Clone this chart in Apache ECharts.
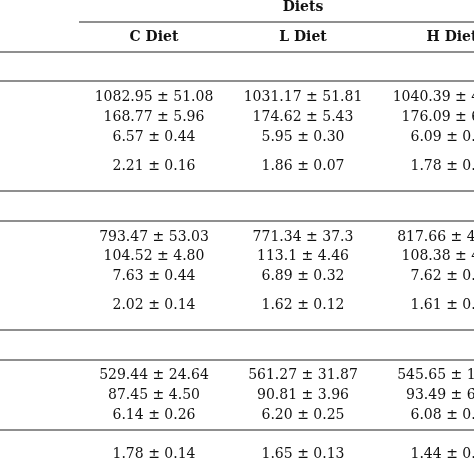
<!DOCTYPE html>
<html>
<head>
<meta charset="utf-8">
<script src="https://cdn.jsdelivr.net/npm/echarts@6/dist/echarts.min.js"></script>
<style>html,body{margin:0;padding:0;background:#fff}#main{width:474px;height:474px}</style>
</head>
<body>
<div id="main"></div>
<script>
// 列标题
var groupTitle = 'Diets';
var dietNames = ['C Diet', 'L Diet', 'H Diet'];

// 三组数据（均值 ± 标准误），H 列在右侧被截断
var cDiet = ['1082.95 ± 51.08', '168.77 ± 5.96', '6.57 ± 0.44', '2.21 ± 0.16',
    '793.47 ± 53.03', '104.52 ± 4.80', '7.63 ± 0.44', '2.02 ± 0.14',
    '529.44 ± 24.64', '87.45 ± 4.50', '6.14 ± 0.26', '1.78 ± 0.14'];
var lDiet = ['1031.17 ± 51.81', '174.62 ± 5.43', '5.95 ± 0.30', '1.86 ± 0.07',
    '771.34 ± 37.3', '113.1 ± 4.46', '6.89 ± 0.32', '1.62 ± 0.12',
    '561.27 ± 31.87', '90.81 ± 3.96', '6.20 ± 0.25', '1.65 ± 0.13'];
var hDiet = ['1040.39 ± 49.12', '176.09 ± 6.02', '6.09 ± 0.31', '1.78 ± 0.09',
    '817.66 ± 41.20', '108.38 ± 4.71', '7.62 ± 0.40', '1.61 ± 0.10',
    '545.65 ± 18.43', '93.49 ± 6.12', '6.08 ± 0.27', '1.44 ± 0.08'];

// 行位置
var rowY = [97, 117, 137, 166, 237, 256, 276, 305, 375, 395, 415, 454];
var colX = [154, 303, 452];
var ruleY = [52, 81, 191, 221, 330, 360, 430];

var graphics = [];
var font = '"DejaVu Serif", serif';

function addText(x, y, txt, bold) {
    graphics.push({
        type: 'text', x: x, y: y,
        style: {
            text: txt, fill: '#111', align: 'center', verticalAlign: 'middle',
            font: (bold ? 'bold ' : '') + '14px ' + font
        }
    });
}
function addLine(x1, x2, y) {
    graphics.push({
        type: 'line', shape: { x1: x1, y1: y, x2: x2, y2: y },
        style: { stroke: '#6a6a6a', lineWidth: 1.5 }
    });
}

addText(303, 7, groupTitle, true);
addLine(79, 474, 22);
for (var i = 0; i < dietNames.length; i++) {
    addText(colX[i], 37, dietNames[i], true);
}
for (var j = 0; j < ruleY.length; j++) {
    addLine(0, 474, ruleY[j]);
}
var cols = [cDiet, lDiet, hDiet];
for (var c = 0; c < cols.length; c++) {
    for (var r = 0; r < rowY.length; r++) {
        addText(colX[c], rowY[r], cols[c][r], false);
    }
}

var myChart = echarts.init(document.getElementById('main'));
myChart.setOption({ backgroundColor: '#fff', graphic: graphics });
</script>
</body>
</html>
